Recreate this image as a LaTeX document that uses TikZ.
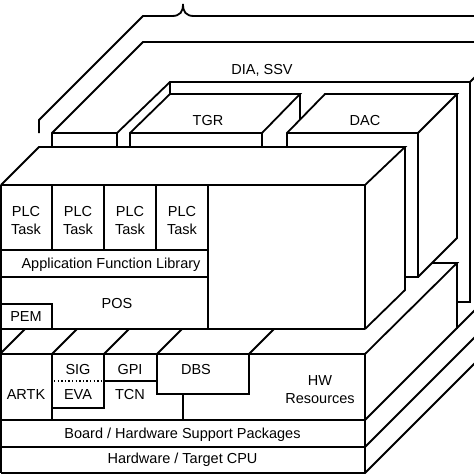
\documentclass[tikz,border=0pt]{standalone}
\usepackage{fontspec}
\setmainfont{Liberation Sans}
\begin{document}
\begin{tikzpicture}[x=1pt,y=-1pt,
  ln/.style={line width=1.8pt, line join=miter, line cap=butt},
  dotln/.style={line width=1.3pt, dash pattern=on 1.4pt off 2.2pt},
  lbl/.style={font=\fontsize{14.5}{18}\selectfont, inner sep=0pt, align=center}]
\fill[white] (0,0) rectangle (474,474);
\useasboundingbox (0,0) rectangle (474,474);
% brace
\draw[ln] (39,133) -- (39,120) -- (143,16) -- (172,16)
  .. controls (180,16) and (183,12) .. (183,4)
  .. controls (183,12) and (186,16) .. (194,16) -- (474,16);
% DIA, SSV layer
\draw[ln] (52,147) -- (52,133) -- (143,42) -- (474,42);
\draw[ln] (52,133) -- (117,133) -- (170,82) -- (470,82) -- (475,77);
\draw[ln] (117,133) -- (117,147);
\draw[ln] (470,82) -- (470,302) -- (457,302);
% TGR
\draw[ln] (130,147) -- (130,133) -- (170,94) -- (300,94) -- (262,133) -- (130,133);
\draw[ln] (170,82) -- (170,94);
\draw[ln] (300,94) -- (300,120);
\draw[ln] (262,133) -- (262,147);
% DAC
\draw[ln] (287,147) -- (287,133) -- (325,94) -- (457,94) -- (418,133) -- (287,133);
\draw[ln] (418,133) -- (418,277) -- (405,277);
\draw[ln] (457,94) -- (457,238) -- (418,277);
% upper block
\draw[ln] (1,185) -- (39,147) -- (405,147) -- (365,185) -- (1,185);
\draw[ln] (365,185) -- (365,329);
\draw[ln] (405,147) -- (405,290) -- (365,329);
\draw[ln] (1,329) -- (365,329);
\draw[ln] (52,185) -- (52,250);
\draw[ln] (104,185) -- (104,250);
\draw[ln] (156,185) -- (156,250);
\draw[ln] (208,185) -- (208,329);
\draw[ln] (1,250) -- (208,250);
\draw[ln] (1,277) -- (208,277);
\draw[ln] (1,304) -- (52,304) -- (52,329);
% HW layer
\draw[ln] (1,354) -- (365,354) -- (457,263) -- (432,263);
\draw[ln] (457,263) -- (457,329);
\draw[ln] (1,353) -- (25,329);
\draw[ln] (52,354) -- (77,329);
\draw[ln] (104,354) -- (129,329);
\draw[ln] (157,354) -- (182,329);
\draw[ln] (249,354) -- (274,329);
\draw[ln] (52,354) -- (52,420);
\draw[ln] (52,408) -- (104,408) -- (104,354);
\draw[dotln] (54,381) -- (103,381);
\draw[ln] (104,381) -- (157,381);
\draw[ln] (157,354) -- (157,394) -- (249,394) -- (249,354);
\draw[ln] (183,394) -- (183,420);
% bottom layers
\draw[ln] (1,420) -- (365,420) -- (475,310);
\draw[ln] (1,447) -- (365,447) -- (475,337);
\draw[ln] (1,473) -- (365,473) -- (475,363);
\draw[ln] (365,354) -- (365,473);
\draw[ln] (1,185) -- (1,473);
% labels
\node[lbl, anchor=base] (dia) at (262,74) {DIA, SSV};
\node[lbl, anchor=base] (tgr) at (208,125) {TGR};
\node[lbl, anchor=base] (dac) at (365,125) {DAC};
\node[lbl] (p1) at (26,221) {PLC\\Task};
\node[lbl] (p2) at (78,221) {PLC\\Task};
\node[lbl] (p3) at (130,221) {PLC\\Task};
\node[lbl] (p4) at (182,221) {PLC\\Task};
\node[lbl, anchor=base] (afl) at (111,268.5) {Application Function Library};
\node[lbl, anchor=base] (pos) at (117,308) {POS};
\node[lbl, anchor=base] (pem) at (26,321.5) {PEM};
\node[lbl, anchor=base] (sig) at (78,374) {SIG};
\node[lbl, anchor=base] (eva) at (78,399.5) {EVA};
\node[lbl, anchor=base] (gpi) at (130,374) {GPI};
\node[lbl, anchor=base] (tcn) at (130,399.5) {TCN};
\node[lbl, anchor=base] (dbs) at (196,374) {DBS};
\node[lbl, anchor=base] (artk) at (26,399.5) {ARTK};
\node[lbl] (hwr) at (320,390) {HW\\Resources};
\node[lbl, anchor=base] (bsp) at (182.5,438.5) {Board / Hardware Support Packages};
\node[lbl, anchor=base] (cpu) at (182.5,463.5) {Hardware / Target CPU};
\end{tikzpicture}
\end{document}
